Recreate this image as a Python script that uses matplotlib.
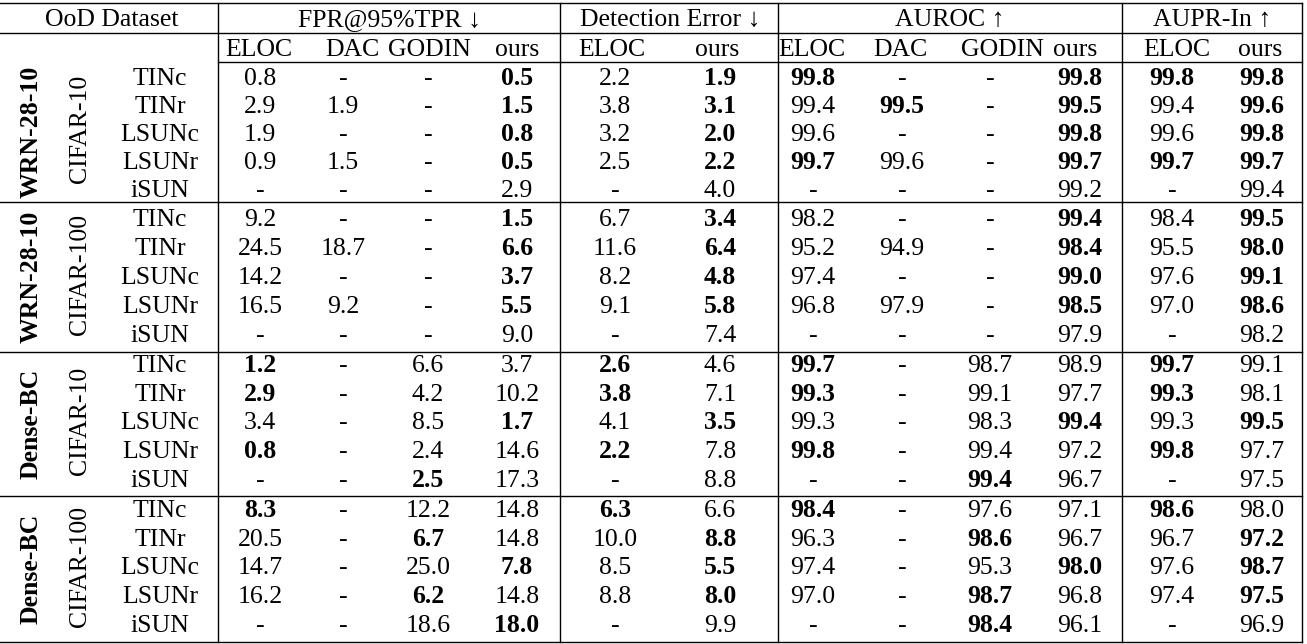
import matplotlib.pyplot as plt

# Tabella OoD: valori per colonna, "*" = grassetto
networks = ["WRN-28-10", "WRN-28-10", "Dense-BC", "Dense-BC"]
in_datasets = ["CIFAR-10", "CIFAR-100", "CIFAR-10", "CIFAR-100"]
ood_sets = ["TINc", "TINr", "LSUNc", "LSUNr", "iSUN"]

metrics = ["FPR@95%TPR ↓", "Detection Error ↓", "AUROC ↑", "AUPR-In ↑"]
sub_headers = ["ELOC", "DAC", "GODIN", "ours", "ELOC", "ours",
               "ELOC", "DAC", "GODIN", "ours", "ELOC", "ours"]

fpr_eloc = ["0.8", "2.9", "1.9", "0.9", "-",
            "9.2", "24.5", "14.2", "16.5", "-",
            "*1.2", "*2.9", "3.4", "*0.8", "-",
            "*8.3", "20.5", "14.7", "16.2", "-"]
fpr_dac = ["-", "1.9", "-", "1.5", "-",
           "-", "18.7", "-", "9.2", "-",
           "-", "-", "-", "-", "-",
           "-", "-", "-", "-", "-"]
fpr_godin = ["-", "-", "-", "-", "-",
             "-", "-", "-", "-", "-",
             "6.6", "4.2", "8.5", "2.4", "*2.5",
             "12.2", "*6.7", "25.0", "*6.2", "18.6"]
fpr_ours = ["*0.5", "*1.5", "*0.8", "*0.5", "2.9",
            "*1.5", "*6.6", "*3.7", "*5.5", "9.0",
            "3.7", "10.2", "*1.7", "14.6", "17.3",
            "14.8", "14.8", "*7.8", "14.8", "*18.0"]
de_eloc = ["2.2", "3.8", "3.2", "2.5", "-",
           "6.7", "11.6", "8.2", "9.1", "-",
           "*2.6", "*3.8", "4.1", "*2.2", "-",
           "*6.3", "10.0", "8.5", "8.8", "-"]
de_ours = ["*1.9", "*3.1", "*2.0", "*2.2", "4.0",
           "*3.4", "*6.4", "*4.8", "*5.8", "7.4",
           "4.6", "7.1", "*3.5", "7.8", "8.8",
           "6.6", "*8.8", "*5.5", "*8.0", "9.9"]
auroc_eloc = ["*99.8", "99.4", "99.6", "*99.7", "-",
              "98.2", "95.2", "97.4", "96.8", "-",
              "*99.7", "*99.3", "99.3", "*99.8", "-",
              "*98.4", "96.3", "97.4", "97.0", "-"]
auroc_dac = ["-", "*99.5", "-", "99.6", "-",
             "-", "94.9", "-", "97.9", "-",
             "-", "-", "-", "-", "-",
             "-", "-", "-", "-", "-"]
auroc_godin = ["-", "-", "-", "-", "-",
               "-", "-", "-", "-", "-",
               "98.7", "99.1", "98.3", "99.4", "*99.4",
               "97.6", "*98.6", "95.3", "*98.7", "*98.4"]
auroc_ours = ["*99.8", "*99.5", "*99.8", "*99.7", "99.2",
              "*99.4", "*98.4", "*99.0", "*98.5", "97.9",
              "98.9", "97.7", "*99.4", "97.2", "96.7",
              "97.1", "96.7", "*98.0", "96.8", "96.1"]
aupr_eloc = ["*99.8", "99.4", "99.6", "*99.7", "-",
             "98.4", "95.5", "97.6", "97.0", "-",
             "*99.7", "*99.3", "99.3", "*99.8", "-",
             "*98.6", "96.7", "97.6", "97.4", "-"]
aupr_ours = ["*99.8", "*99.6", "*99.8", "*99.7", "99.4",
             "*99.5", "*98.0", "*99.1", "*98.6", "98.2",
             "99.1", "98.1", "*99.5", "97.7", "97.5",
             "98.0", "*97.2", "*98.7", "*97.5", "96.9"]

columns = [fpr_eloc, fpr_dac, fpr_godin, fpr_ours, de_eloc, de_ours,
           auroc_eloc, auroc_dac, auroc_godin, auroc_ours, aupr_eloc, aupr_ours]

# layout (pixel)
W, H = 1307, 644
col_x = [260, 343, 428, 517, 615, 720, 813, 902, 990, 1080, 1172, 1262]
head_x = [259, 352, 429, 517, 612, 717, 812, 900, 1002, 1075, 1177, 1260]
metric_x = [390, 670, 950, 1212]
vlines = [218, 560, 778, 1122, 1302]
group_top = [62, 202, 352, 496, 642]
first_off = [14, 15, 11, 12]
pitch = [28, 29, 28.8, 28.8]
fs = 18.5
serif = ["Liberation Serif", "DejaVu Serif"]
half_cap = 8.8

fig = plt.figure(figsize=(W / 100, H / 100), dpi=100)
ax = fig.add_axes([0, 0, 1, 1])
ax.set_xlim(0, W)
ax.set_ylim(H, 0)
ax.axis("off")


def put(x, y, s, bold=False):
    ax.text(x, y + half_cap, s, ha="center", va="baseline", fontsize=fs,
            family=serif, fontweight="bold" if bold else "normal")


# linee
lw = 1.0
ax.plot([0, vlines[-1]], [3, 3], color="black", lw=lw)
ax.plot([0, vlines[-1]], [33, 33], color="black", lw=lw)
ax.plot([vlines[0], vlines[-1]], [62, 62], color="black", lw=lw)
for y in group_top[1:]:
    ax.plot([0, vlines[-1]], [y, y], color="black", lw=lw)
for x in vlines:
    ax.plot([x, x], [3, group_top[-1]], color="black", lw=lw)

# intestazioni
put(112, 17, "OoD Dataset")
for x, m in zip(metric_x, metrics):
    put(x, 17, m)
for x, s in zip(head_x, sub_headers):
    put(x, 47, s)

# righe
for g in range(4):
    top, bottom = group_top[g], group_top[g + 1]
    mid = (top + bottom) / 2
    ax.text(31, mid, networks[g], rotation=90, ha="center", va="center",
            fontsize=fs, family=serif, fontweight="bold")
    ax.text(80, mid - 3, in_datasets[g], rotation=90, ha="center", va="center",
            fontsize=fs, family=serif)
    for i, name in enumerate(ood_sets):
        y = top + first_off[g] + i * pitch[g]
        put(160, y, name)
        r = g * 5 + i
        for x, col in zip(col_x, columns):
            v = col[r]
            put(x, y, v.lstrip("*"), bold=v.startswith("*"))

fig.savefig("out.png", dpi=100)
